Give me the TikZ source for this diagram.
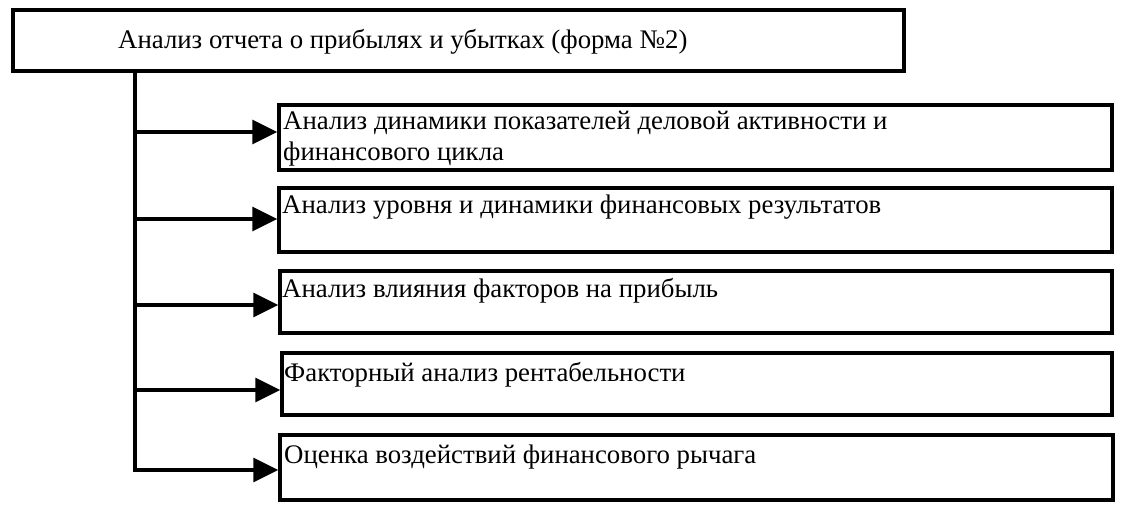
\documentclass[tikz,border=0pt]{standalone}
\usepackage{fontspec}
\setmainfont{Liberation Serif}
\usetikzlibrary{arrows.meta}
\begin{document}
\begin{tikzpicture}[x=1pt,y=-1pt,
  box/.style={draw=black,line width=3.5pt,rectangle,inner sep=0pt,fill=none},
  txt/.style={anchor=base west,inner sep=0pt,font=\fontsize{26.8}{31}\selectfont},
  conn/.style={line width=3.5pt,draw=black},
  arr/.style={conn,-{Triangle[length=25pt,width=24pt]}}]
\useasboundingbox (0,0) rectangle (1129,515);
\fill[white] (0,0) rectangle (1129,515);
% boxes
\node[box,minimum width=891pt,minimum height=61pt] (top) at (458.5,40.5) {};
\node[box,minimum width=833pt,minimum height=65pt] (b1) at (695.5,137.5) {};
\node[box,minimum width=833pt,minimum height=64pt] (b2) at (695.5,220) {};
\node[box,minimum width=832pt,minimum height=62pt] (b3) at (696,302) {};
\node[box,minimum width=830pt,minimum height=62pt] (b4) at (697,384) {};
\node[box,minimum width=833pt,minimum height=65pt] (b5) at (696.5,467.5) {};
% texts
\node[txt] (t0) at (118,48) {Анализ отчета о прибылях и убытках (форма №2)};
\node[txt] (t1a) at (283,129) {Анализ динамики показателей деловой активности и};
\node[txt] (t1b) at (283,160) {финансового цикла};
\node[txt] (t2) at (282,213) {Анализ уровня и динамики финансовых результатов};
\node[txt] (t3) at (282,297) {Анализ влияния факторов на прибыль};
\node[txt] (t4) at (284,381) {Факторный анализ рентабельности};
\node[txt] (t5) at (284,463) {Оценка воздействий финансового рычага};
% connectors
\coordinate (j0) at (135,71);
\coordinate (j1) at (135,132);
\coordinate (j2) at (135,219);
\coordinate (j3) at (135,305);
\coordinate (j4) at (135,390);
\coordinate (j5) at (135,470);
\draw[conn] (j0) -- ([yshift=-1.75pt]j5);
\draw[arr] (j1) -- (j1 -| b1.west);
\draw[arr] (j2) -- (j2 -| b2.west);
\draw[arr] (j3) -- (j3 -| b3.west);
\draw[arr] (j4) -- (j4 -| b4.west);
\draw[arr] (j5) -- (j5 -| b5.west);
\end{tikzpicture}
\end{document}
